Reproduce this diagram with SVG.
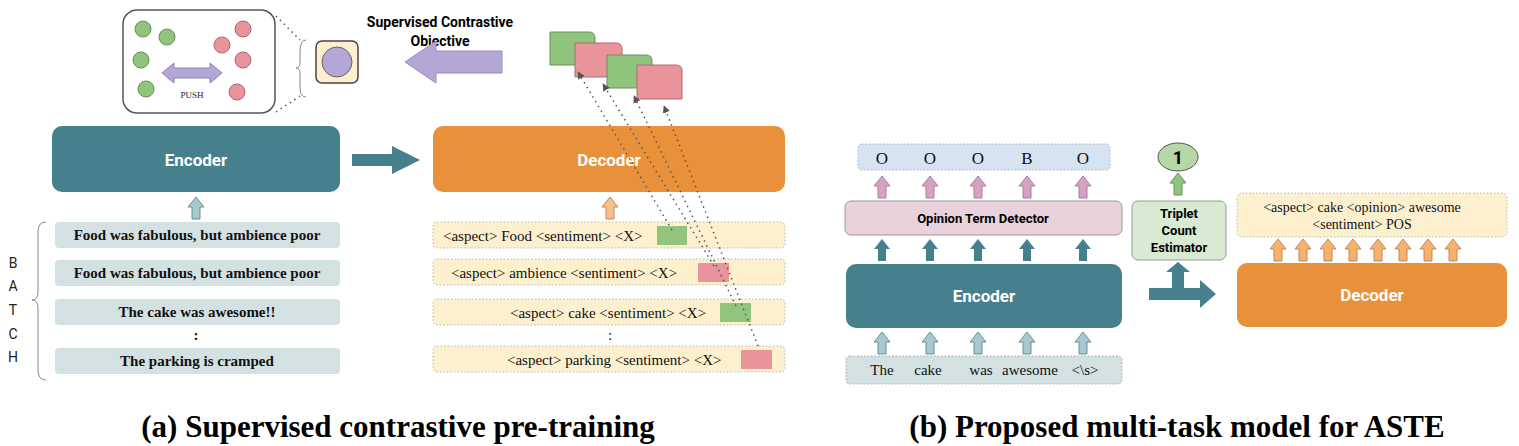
<svg xmlns="http://www.w3.org/2000/svg" xmlns:xlink="http://www.w3.org/1999/xlink" width="1519" height="446" viewBox="0 0 1519 446">
<style>
.sans{font-family:Roboto,"Liberation Sans",sans-serif;font-weight:bold}
.ser{font-family:"Liberation Serif","DejaVu Serif",serif}
.bl{fill:#ffffff;font-size:17px}
.enc{fill:#47808d}
.dec{fill:#e8913a}
.in{fill:#d4e1e3}
.out{fill:#fdf0cf;stroke:#b8b8b8;stroke-dasharray:1.5 2}
.tok{font-size:15px;fill:#111}
.g{fill:#8fc47c;stroke:#6b8f5c}
.r{fill:#e8949a;stroke:#a96c70}
.dot{stroke:#555;stroke-width:1.5;stroke-dasharray:1.5 4;fill:none}
.cap{font-family:"Liberation Serif",serif;font-weight:bold;font-size:31px;fill:#000}
</style>
<defs>
<path id="ua" d="M-4,22 V10 H-8 L0,0 L8,10 H4 V22 Z"/>
<marker id="ah" viewBox="0 0 10 10" refX="9" refY="5" markerWidth="5" markerHeight="5" orient="auto"><path d="M0,0 L10,5 L0,10 z" fill="#555"/></marker>
</defs>
<rect width="1519" height="446" fill="#fff"/>

<g id="cluster">
<rect x="123" y="10" width="152" height="103" rx="14" fill="#fff" stroke="#555" stroke-width="1.5"/>
<g stroke-width="1">
<circle cx="143" cy="29" r="8" class="g"/><circle cx="167" cy="37" r="8" class="g"/><circle cx="141" cy="60" r="8" class="g"/><circle cx="146" cy="89" r="8" class="g"/>
<circle cx="243" cy="29" r="8" class="r"/><circle cx="222" cy="45" r="8" class="r"/><circle cx="243" cy="60" r="8" class="r"/><circle cx="237" cy="92" r="8" class="r"/>
</g>
<path d="M162,73 L174,63 V68 H210 V63 L222,73 L210,83 V78 H174 V83 Z" fill="#b4a7d6" stroke="#8e7cc3"/>
<text x="192" y="98" class="ser" font-size="9" text-anchor="middle" fill="#222">PUSH</text>
</g>
<g id="zoomlines">
<path d="M276,16 L300,40 M276,112 L300,96" class="dot" stroke-width="0.8" stroke-dasharray="1 2"/>
<path d="M306,40 Q300,40 300,52 V62 Q300,68 296,68 Q300,68 300,74 V88 Q300,97 306,97" fill="none" stroke="#888"/>
</g>
<g id="embed">
<rect x="316" y="41" width="42" height="42" rx="6" fill="#fdf0cf" stroke="#444" stroke-width="1.5"/>
<circle cx="337" cy="62" r="15" fill="#b4a7d6" stroke="#666"/>
</g>
<g id="objective">
<text x="440" y="27" class="sans" font-size="14" text-anchor="middle">Supervised Contrastive</text>
<text x="440" y="46" class="sans" font-size="14" text-anchor="middle">Objective</text>
<path d="M502,51 V73 H436 V83 L405,62 L436,41 V51 Z" fill="#b4a7d6" stroke="#9a8cc0"/>
</g>
<g id="cards" stroke-width="1">
<path d="M550,65 V32 H589 Q595,32 595,38 V65 Z" class="g"/>
<path d="M575,77 V43 H616 Q622,43 622,49 V77 Z" class="r"/>
<path d="M607,88 V55 H646 Q652,55 652,61 V88 Z" class="g"/>
<path d="M637,99 V65 H676 Q682,65 682,71 V99 Z" class="r"/>
</g>

<g id="encoderA"><rect x="52" y="126" width="288" height="66" rx="10" class="enc"/><text x="196" y="166" class="sans bl" text-anchor="middle">Encoder</text></g>
<g id="decoderA"><rect x="433" y="126" width="352" height="66" rx="10" class="dec"/><text x="609" y="166" class="sans bl" text-anchor="middle">Decoder</text></g>

<g id="batch" class="ser tok" font-weight="bold">
<rect x="55" y="222" width="285" height="26" rx="4" class="in"/><text x="197" y="240" text-anchor="middle">Food was fabulous, but ambience poor</text>
<rect x="55" y="260" width="285" height="26" rx="4" class="in"/><text x="197" y="278" text-anchor="middle">Food was fabulous, but ambience poor</text>
<rect x="55" y="299" width="285" height="26" rx="4" class="in"/><text x="197" y="317" text-anchor="middle">The cake was awesome!!</text>
<text x="196" y="340" text-anchor="middle">:</text>
<rect x="55" y="348" width="285" height="26" rx="4" class="in"/><text x="197" y="366" text-anchor="middle">The parking is cramped</text>
</g>
<g id="batchlabel" font-family="Roboto,'Liberation Sans',sans-serif" font-size="14" fill="#222" text-anchor="middle">
<text x="13" y="268">B</text><text x="13" y="291">A</text><text x="13" y="315">T</text><text x="13" y="339">C</text><text x="13" y="362">H</text>
<path d="M46,222 Q38,222 38,232 V292 Q38,300 32,300 Q38,300 38,308 V370 Q38,380 46,380" fill="none" stroke="#888"/>
</g>

<g id="outputsA" class="ser tok">
<rect x="433" y="222" width="352" height="26" rx="4" class="out"/>
<rect x="657" y="226" width="30" height="19" fill="#93c47d"/>
<text x="443" y="241">&lt;aspect&gt; Food &lt;sentiment&gt; &lt;X&gt;</text>
<rect x="433" y="259" width="352" height="26" rx="4" class="out"/>
<rect x="698" y="263" width="31" height="19" fill="#e8949a"/>
<text x="451" y="278">&lt;aspect&gt; ambience &lt;sentiment&gt; &lt;X&gt;</text>
<rect x="433" y="299" width="352" height="26" rx="4" class="out"/>
<rect x="720" y="303" width="31" height="19" fill="#93c47d"/>
<text x="510" y="318">&lt;aspect&gt; cake &lt;sentiment&gt; &lt;X&gt;</text>
<text x="610" y="340" text-anchor="middle">:</text>
<rect x="433" y="346" width="352" height="26" rx="4" class="out"/>
<rect x="741" y="350" width="31" height="19" fill="#e8949a"/>
<text x="507" y="365">&lt;aspect&gt; parking &lt;sentiment&gt; &lt;X&gt;</text>
</g>

<g id="connectors">
<path d="M352,154 H392 V146 L420,160 L392,174 V166 H352 Z" fill="#47808d"/>
<use href="#ua" x="196" y="197" fill="#a8c8d0" stroke="#6a8f96"/>
<use href="#ua" x="610" y="197" fill="#f6c08e" stroke="#c08a5a"/>
<path d="M672,230 L578,72" class="dot" marker-end="url(#ah)"/>
<path d="M714,266 L603,84" class="dot" marker-end="url(#ah)"/>
<path d="M736,306 L634,96" class="dot" marker-end="url(#ah)"/>
<path d="M758,346 L664,106" class="dot" marker-end="url(#ah)"/>

<g fill="#d7a1c3" stroke="#a77e99"><use href="#ua" x="882" y="176"/><use href="#ua" x="930" y="176"/><use href="#ua" x="978" y="176"/><use href="#ua" x="1027" y="176"/><use href="#ua" x="1083" y="176"/></g>
<g fill="#47808d"><use href="#ua" x="882" y="239"/><use href="#ua" x="930" y="239"/><use href="#ua" x="978" y="239"/><use href="#ua" x="1027" y="239"/><use href="#ua" x="1083" y="239"/></g>
<g fill="#a8c8d0" stroke="#6a8f96"><use href="#ua" x="882" y="332"/><use href="#ua" x="930" y="332"/><use href="#ua" x="978" y="332"/><use href="#ua" x="1027" y="332"/><use href="#ua" x="1083" y="332"/></g>
<use href="#ua" x="1178" y="173" fill="#8fc47c" stroke="#6b8f5c"/>
<path d="M1149,288 H1172 V272 H1166 L1178,262 L1190,272 H1184 V288 H1200 V280 L1216,294 L1200,308 V300 H1149 Z" fill="#47808d"/>
<g fill="#f6b26b" stroke="#c08a5a"><use href="#ua" x="1278" y="239"/><use href="#ua" x="1303" y="239"/><use href="#ua" x="1328" y="239"/><use href="#ua" x="1353" y="239"/><use href="#ua" x="1378" y="239"/><use href="#ua" x="1403" y="239"/><use href="#ua" x="1428" y="239"/><use href="#ua" x="1453" y="239"/></g>
</g>

<g id="tags" class="ser" font-size="17" fill="#111">
<rect x="858" y="144" width="252" height="26" rx="4" fill="#d6e4f2" stroke="#aab" stroke-dasharray="1.5 2"/>
<g text-anchor="middle"><text x="882" y="164">O</text><text x="930" y="164">O</text><text x="978" y="164">O</text><text x="1027" y="164">B</text><text x="1083" y="164">O</text></g>
</g>
<g id="otd"><rect x="845" y="201" width="277" height="34" rx="6" fill="#ead2dc" stroke="#999"/><text x="983" y="223" class="sans" font-size="13" text-anchor="middle">Opinion Term Detector</text></g>
<g id="encoderB"><rect x="846" y="264" width="276" height="64" rx="10" class="enc"/><text x="984" y="302" class="sans bl" text-anchor="middle">Encoder</text></g>
<g id="inputB" class="ser tok"><rect x="846" y="356" width="276" height="28" rx="4" class="in" stroke="#aaa" stroke-dasharray="1.5 2"/>
<g text-anchor="middle"><text x="882" y="375">The</text><text x="928" y="375">cake</text><text x="981" y="375">was</text><text x="1030" y="375">awesome</text><text x="1085" y="375">&lt;\s&gt;</text></g></g>
<g id="count"><ellipse cx="1178" cy="157" rx="20" ry="14" fill="#b6d7a8" stroke="#555"/><text x="1178" y="164" class="sans" font-size="18" text-anchor="middle">1</text></g>
<g id="tce"><rect x="1132" y="201" width="94" height="59" rx="6" fill="#d9ead3" stroke="#999"/>
<g class="sans" font-size="13" text-anchor="middle"><text x="1179" y="218">Triplet</text><text x="1179" y="235">Count</text><text x="1179" y="252">Estimator</text></g></g>
<g id="outB" class="ser" font-size="14" fill="#111"><rect x="1237" y="193" width="270" height="44" rx="5" class="out"/>
<text x="1362" y="212" text-anchor="middle">&lt;aspect&gt; cake &lt;opinion&gt; awesome</text><text x="1362" y="229" text-anchor="middle">&lt;sentiment&gt; POS</text></g>
<g id="decoderB"><rect x="1237" y="263" width="270" height="64" rx="10" class="dec"/><text x="1372" y="301" class="sans bl" text-anchor="middle">Decoder</text></g>

<text x="398" y="437" class="cap" text-anchor="middle">(a) Supervised contrastive pre-training</text>
<text x="1177" y="437" class="cap" text-anchor="middle">(b) Proposed multi-task model for ASTE</text>
</svg>
